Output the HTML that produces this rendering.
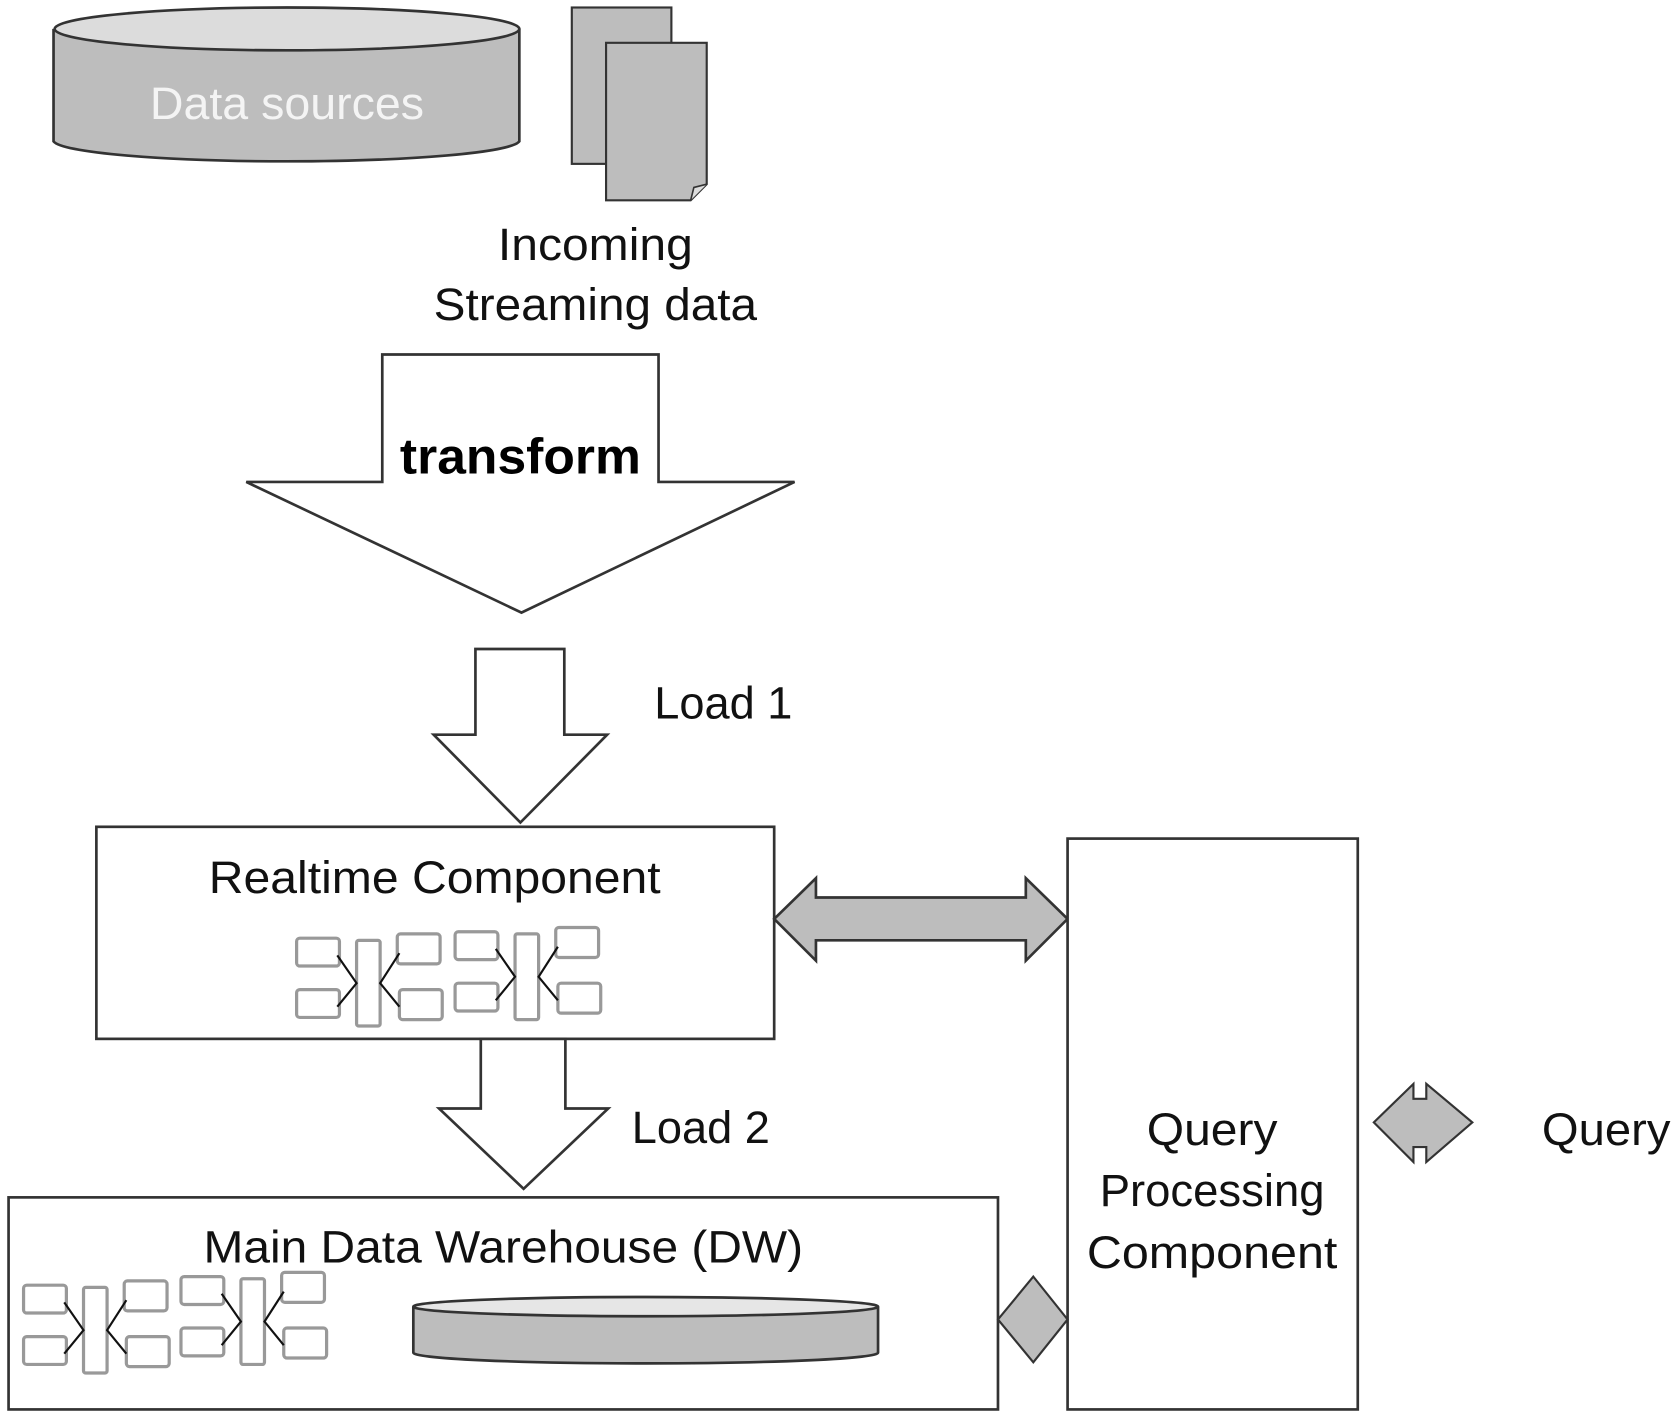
<!DOCTYPE html>
<html><head><style>html,body{margin:0;padding:0;background:#fff}svg{display:block}</style></head><body>
<svg width="1679" height="1418" viewBox="0 0 1568 1324" preserveAspectRatio="none" xmlns="http://www.w3.org/2000/svg" font-family="Liberation Sans, sans-serif">
<defs>
<g id="ic">
<rect x="0" y="8" width="40" height="26" rx="3" fill="#fff" stroke="#999" stroke-width="3"/>
<rect x="0" y="56" width="40" height="26" rx="3" fill="#fff" stroke="#999" stroke-width="3"/>
<rect x="56" y="10" width="22" height="80" rx="2" fill="#fff" stroke="#999" stroke-width="3"/>
<rect x="94" y="4" width="40" height="28" rx="3" fill="#fff" stroke="#999" stroke-width="3"/>
<rect x="96" y="56" width="40" height="28" rx="3" fill="#fff" stroke="#999" stroke-width="3"/>
<path d="M38 24 L56 50 L38 72 M96 22 L78 50 L96 72" fill="none" stroke="#111" stroke-width="2"/>
</g>
</defs>
<path d="M50 27 V132 A218 20 0 0 0 485 132 V27" fill="#bdbdbd" stroke="#333" stroke-width="2.5"/>
<ellipse cx="268" cy="27" rx="217" ry="20" fill="#dcdcdc" stroke="#333" stroke-width="2.5"/>
<text x="268" y="111" font-size="42" fill="#f4f4f4" text-anchor="middle" textLength="256" lengthAdjust="spacingAndGlyphs">Data sources</text>
<rect x="534" y="7" width="93" height="146" fill="#bdbdbd" stroke="#333" stroke-width="2"/>
<path d="M566 40 H660 V172 L645 187 H566 Z" fill="#bdbdbd" stroke="#333" stroke-width="2"/>
<path d="M645 187 L648 175 L660 172" fill="#ddd" stroke="#333" stroke-width="1.5"/>
<text x="556" y="243" font-size="42" text-anchor="middle" fill="#111" textLength="182" lengthAdjust="spacingAndGlyphs">Incoming</text>
<text x="556" y="299" font-size="42" text-anchor="middle" fill="#111" textLength="302" lengthAdjust="spacingAndGlyphs">Streaming data</text>
<path d="M357 331 H615 V450 H742 L487 572 L230 450 H357 Z" fill="#fff" stroke="#333" stroke-width="2.5"/>
<text x="486" y="442" font-size="47" font-weight="bold" text-anchor="middle" fill="#000" textLength="225" lengthAdjust="spacingAndGlyphs">transform</text>
<path d="M444 606 H527 V686 H567 L486 768 L405 686 H444 Z" fill="#fff" stroke="#333" stroke-width="2.5"/>
<text x="611" y="671" font-size="42" fill="#111" textLength="129" lengthAdjust="spacingAndGlyphs">Load 1</text>
<rect x="90" y="772" width="633" height="198" fill="#fff" stroke="#333" stroke-width="2.5"/>
<text x="406" y="834" font-size="42" text-anchor="middle" fill="#111" textLength="422" lengthAdjust="spacingAndGlyphs">Realtime Component</text>
<use href="#ic" x="277" y="868"/>
<use href="#ic" x="425" y="862"/>
<path d="M723 858 L762 820 V838 H958 V820 L997 858 L958 897 V878 H762 V897 Z" fill="#bdbdbd" stroke="#333" stroke-width="2.5"/>
<rect x="997" y="783" width="271" height="533" fill="#fff" stroke="#333" stroke-width="2.5"/>
<text x="1132" y="1069" font-size="42" text-anchor="middle" fill="#111" textLength="122" lengthAdjust="spacingAndGlyphs">Query</text>
<text x="1132" y="1126" font-size="42" text-anchor="middle" fill="#111" textLength="210" lengthAdjust="spacingAndGlyphs">Processing</text>
<text x="1132" y="1184" font-size="42" text-anchor="middle" fill="#111" textLength="234" lengthAdjust="spacingAndGlyphs">Component</text>
<path d="M449 970 H528 V1035 H568 L489 1110 L410 1035 H449 Z" fill="#fff" stroke="#333" stroke-width="2.5"/>
<text x="590" y="1067" font-size="42" fill="#111" textLength="129" lengthAdjust="spacingAndGlyphs">Load 2</text>
<rect x="8" y="1118" width="924" height="198" fill="#fff" stroke="#333" stroke-width="2.5"/>
<text x="470" y="1179" font-size="42" text-anchor="middle" fill="#111" textLength="560" lengthAdjust="spacingAndGlyphs">Main Data Warehouse (DW)</text>
<use href="#ic" x="22" y="1192"/>
<use href="#ic" x="169" y="1184"/>
<path d="M386 1220 V1263 A217 10 0 0 0 820 1263 V1220" fill="#bdbdbd" stroke="#333" stroke-width="2.5"/>
<ellipse cx="603" cy="1220" rx="217" ry="9" fill="#e6e6e6" stroke="#333" stroke-width="2.5"/>
<path d="M965 1192 L997 1232 L965 1272 L932 1232 Z" fill="#bdbdbd" stroke="#333" stroke-width="2"/>
<path d="M1320 1012 V1026 H1332 V1012 L1375 1048 L1332 1085 V1071 H1320 V1085 L1283 1048 Z" fill="#bdbdbd" stroke="#333" stroke-width="2"/>
<text x="1440" y="1069" font-size="42" fill="#111" textLength="120" lengthAdjust="spacingAndGlyphs">Query</text>
</svg>
</body></html>
